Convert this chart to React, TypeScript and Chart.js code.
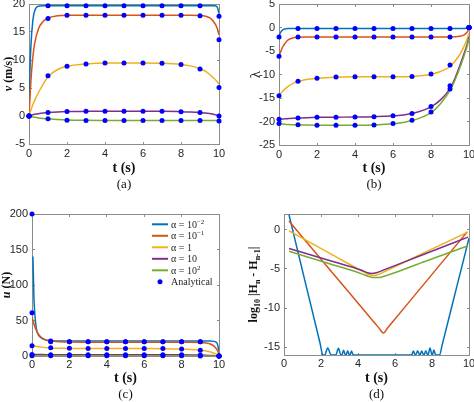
import { useEffect, useRef } from 'react';
import { Chart, registerables } from 'chart.js';

Chart.register(...registerables);

const SERIES_COLORS = ['#0072BD', '#D95319', '#EDB120', '#7E2F8E', '#77AC30'];
const ANALYTICAL_COLOR = '#0000FF';
const AXIS_COLOR = '#8c8c8c';
const TEXT_COLOR = '#262626';
const SANS = '"Liberation Sans", Arial, sans-serif';
const SERIF = '"Liberation Serif", "Times New Roman", serif';

// legend text: base and superscript of each weight
const alphaBase = ['α = 10', 'α = 10', 'α = 1', 'α = 10', 'α = 10'];
const alphaSup = ['−2', '−1', '', '', '2'];
const alphaNames = ['α = 10⁻²', 'α = 10⁻¹', 'α = 1', 'α = 10', 'α = 10²'];
const analyticalLabel = 'Analytical';
const timeTitle = 't (s)';

// time samples of the numerical solutions (panels a–c)
const tNum = [0, 0.05, 0.1, 0.2, 0.3, 0.5, 0.75, 1, 1.5, 2, 3, 4, 5, 6, 7, 8, 8.5, 9, 9.25, 9.5, 9.75, 9.9, 10];
// time samples of the analytical solution
const tExact = [0, 1, 2, 3, 4, 5, 6, 7, 8, 9, 10];

// (a) velocity v (m/s), numerical
const vel_1em2 = [0, 7.8, 12.5, 17.0, 18.8, 19.6, 19.7, 19.7, 19.7, 19.7, 19.7, 19.7, 19.7, 19.7, 19.7, 19.7, 19.7, 19.7, 19.7, 19.7, 19.7, 19.5, 18.3];
const vel_1em1 = [0, 3.3, 6.2, 10.4, 13.0, 15.6, 16.9, 17.5, 17.9, 18.0, 18.0, 18.0, 18.0, 18.0, 18.0, 18.0, 18.0, 17.95, 17.85, 17.55, 16.7, 15.7, 14.5];
const vel_1 = [0, 0.55, 1.05, 2.0, 2.8, 4.2, 5.7, 7.0, 8.3, 8.9, 9.3, 9.45, 9.45, 9.45, 9.4, 9.2, 8.95, 8.45, 8.05, 7.45, 6.65, 6.15, 5.7];
const vel_10 = [0, 0.06, 0.12, 0.22, 0.3, 0.42, 0.54, 0.62, 0.73, 0.79, 0.83, 0.85, 0.85, 0.85, 0.83, 0.78, 0.72, 0.62, 0.54, 0.43, 0.27, 0.13, 0];
const vel_100 = [0, -0.04, -0.08, -0.16, -0.23, -0.34, -0.44, -0.51, -0.63, -0.71, -0.77, -0.79, -0.8, -0.8, -0.8, -0.8, -0.8, -0.8, -0.8, -0.81, -0.81, -0.82, -0.82];
// (a) velocity, analytical
const velExact_1em2 = [0, 19.7, 19.7, 19.7, 19.7, 19.7, 19.7, 19.7, 19.7, 19.7, 17.8];
const velExact_1em1 = [0, 17.4, 18.0, 18.0, 18.0, 18.0, 18.0, 18.0, 18.0, 17.9, 13.6];
const velExact_1 = [0, 7.2, 8.9, 9.3, 9.45, 9.45, 9.45, 9.4, 9.2, 8.4, 5.1];
const velExact_10 = [0, 0.62, 0.8, 0.84, 0.85, 0.85, 0.85, 0.83, 0.78, 0.62, 0];
const velExact_100 = [0, -0.48, -0.74, -0.79, -0.8, -0.8, -0.8, -0.8, -0.8, -0.8, -0.88];

// (b) costate λ, numerical
const lam_1em2 = [-2.0, -1.35, -0.95, -0.5, -0.32, -0.22, -0.2, -0.2, -0.2, -0.2, -0.2, -0.2, -0.2, -0.2, -0.2, -0.2, -0.2, -0.2, -0.2, -0.2, -0.2, -0.17, -0.05];
const lam_1em1 = [-6.1, -5.5, -5.0, -4.1, -3.45, -2.6, -2.2, -2.08, -2.02, -2.0, -2.0, -2.0, -2.0, -2.0, -2.0, -2.0, -2.0, -2.0, -1.97, -1.88, -1.55, -1.0, -0.35];
const lam_1 = [-14.6, -14.3, -14.0, -13.5, -13.1, -12.45, -11.9, -11.5, -11.0, -10.8, -10.58, -10.5, -10.5, -10.48, -10.4, -9.95, -9.35, -8.35, -7.25, -5.85, -3.9, -2.5, -1.2];
const lam_10 = [-19.5, -19.49, -19.48, -19.46, -19.43, -19.38, -19.32, -19.27, -19.18, -19.12, -19.08, -19.05, -18.98, -18.8, -18.3, -16.9, -15.4, -13.0, -10.9, -8.3, -5.4, -3.6, -2.0];
const lam_100 = [-20.4, -20.43, -20.46, -20.52, -20.56, -20.62, -20.68, -20.72, -20.77, -20.8, -20.82, -20.82, -20.75, -20.5, -19.8, -18.1, -16.2, -13.4, -11.3, -8.8, -5.9, -4.0, -2.4];
// (b) costate, analytical
const lamExact_1em2 = [-2.0, -0.2, -0.2, -0.2, -0.2, -0.2, -0.2, -0.2, -0.2, -0.2, 0];
const lamExact_1em1 = [-6.1, -2.0, -2.0, -2.0, -2.0, -2.0, -2.0, -2.0, -2.0, -2.0, 0];
const lamExact_1 = [-14.5, -11.45, -10.8, -10.55, -10.5, -10.5, -10.5, -10.4, -9.9, -8.0, 0];
const lamExact_10 = [-19.5, -19.25, -19.1, -19.1, -19.05, -19.0, -18.8, -18.3, -16.8, -12.4, 0];
const lamExact_100 = [-20.4, -20.7, -20.8, -20.8, -20.8, -20.75, -20.45, -19.75, -18.0, -13.1, 0];

// (c) control u (N), numerical
const ctl_1em2 = [null, 140, 85, 45, 32, 25.5, 22.3, 21.4, 21.0, 21.0, 21.0, 21.0, 21.0, 21.0, 21.0, 21.0, 21.0, 21.0, 21.0, 21.0, 20.6, 18.0, 7.0];
const ctl_1em1 = [55, 50, 45.5, 38, 32.5, 26, 22.5, 21, 20, 19.6, 19.4, 19.3, 19.3, 19.3, 19.3, 19.3, 19.3, 19.1, 18.6, 17.3, 13.5, 8.5, 3.0];
const ctl_1 = [15.0, 14.7, 14.4, 13.8, 13.3, 12.5, 11.8, 11.3, 10.9, 10.7, 10.55, 10.5, 10.5, 10.45, 10.3, 9.8, 9.2, 8.2, 7.4, 6.0, 3.8, 2.3, 1.0];
const ctl_10 = [1.95, 1.95, 1.95, 1.95, 1.94, 1.94, 1.93, 1.93, 1.92, 1.91, 1.91, 1.9, 1.9, 1.88, 1.83, 1.69, 1.54, 1.3, 1.09, 0.83, 0.54, 0.36, 0.2];
const ctl_100 = [0.2, 0.2, 0.2, 0.2, 0.2, 0.2, 0.2, 0.2, 0.2, 0.2, 0.2, 0.2, 0.2, 0.2, 0.2, 0.18, 0.16, 0.13, 0.11, 0.09, 0.06, 0.04, 0.02];
// (c) control, analytical
const ctlExact_1em2 = [200, 20, 20, 20, 20, 20, 20, 20, 20, 20, 0];
const ctlExact_1em1 = [61, 21.2, 20, 20, 20, 20, 20, 20, 20, 20, 0];
const ctlExact_1 = [14.5, 11.45, 10.8, 10.55, 10.5, 10.5, 10.5, 10.4, 9.9, 8.0, 0];
const ctlExact_10 = [1.95, 1.93, 1.91, 1.91, 1.9, 1.9, 1.88, 1.83, 1.68, 1.24, 0];
const ctlExact_100 = [0.2, 0.21, 0.21, 0.21, 0.21, 0.21, 0.2, 0.2, 0.18, 0.13, 0];

// (d) log10 |H_n - H_(n-1)| per weight
const hT_1em2 = [0.27, 1.2, 1.95, 2.1, 2.2, 2.36, 2.55, 2.8, 2.94, 3.08, 3.13, 3.22, 3.32, 3.35, 3.44, 3.53, 3.56, 3.65, 3.74, 6.9, 6.99, 7.1, 7.12, 7.22, 7.33, 7.35, 7.44, 7.55, 7.57, 7.66, 7.77, 7.79, 7.89, 8.0, 8.02, 8.1, 8.2, 8.41, 8.55, 9.3, 10];
const hV_1em2 = [1.9, -7.2, -14.5, -16, -16, -15.12, -16, -16, -15.15, -16, -16, -15.4, -16, -16, -15.45, -16, -16, -15.5, -16, -16, -15.5, -16, -16, -15.45, -16, -16, -15.5, -16, -16, -15.45, -16, -16, -15.1, -16, -16, -15.35, -16, -16, -14.7, -7.66, -1.1];
const hT_1em1 = [0.27, 2.5, 4.8, 5.15, 5.37, 5.6, 6, 8, 9.9];
const hV_1em1 = [1.1, -5.17, -11.63, -12.6, -13.2, -12.55, -11.41, -5.71, -0.3];
const hT_1 = [0.27, 2.5, 4.3, 4.6, 4.85, 5.1, 5.5, 7.5, 9.95];
const hV_1 = [-0.15, -3.05, -5.39, -5.72, -5.86, -5.72, -5.27, -3.03, -0.29];
const hT_10 = [0.27, 2.5, 4.2, 4.5, 4.72, 5.0, 5.5, 7.5, 9.95];
const hV_10 = [-2.4, -3.98, -5.19, -5.48, -5.6, -5.5, -5.04, -3.2, -0.95];
const hT_100 = [0.27, 2.5, 4.0, 4.4, 4.8, 5.1, 5.5, 7.5, 9.95];
const hV_100 = [-2.75, -4.38, -5.47, -5.82, -6.1, -6.1, -5.88, -4.15, -2.05];

// axis ticks
const xTicksStep = 2;
const hTickValues = [-15, -10, -5, 0];

type Seg = { text: string; font: string; dy?: number };

function drawSegs(ctx: CanvasRenderingContext2D, segs: Seg[], x: number, y: number, rotate: boolean, align: 'center' | 'left' = 'center') {
  ctx.save();
  ctx.translate(x, y);
  if (rotate) ctx.rotate(-Math.PI / 2);
  ctx.textAlign = 'left';
  ctx.textBaseline = 'alphabetic';
  let w = 0;
  for (const s of segs) {
    ctx.font = s.font;
    w += ctx.measureText(s.text).width;
  }
  let cx = align === 'center' ? -w / 2 : 0;
  for (const s of segs) {
    ctx.font = s.font;
    ctx.fillText(s.text, cx, s.dy ?? 0);
    cx += ctx.measureText(s.text).width;
  }
  ctx.restore();
}

interface DecorSpec {
  yTitle: Seg[];
  yTitleX: number;
  xTitleDy: number;
  caption: string;
  captionDy: number;
  legend?: boolean;
}

function makeDecor(spec: DecorSpec) {
  return {
    id: 'panelDecor',
    beforeDatasetsDraw(chart: any) {
      const { ctx, chartArea: a } = chart;
      const xs = chart.scales.x;
      const ys = chart.scales.y;
      const L = Math.floor(a.left) + 0.5;
      const R = Math.floor(a.right) + 0.5;
      const T = Math.floor(a.top) + 0.5;
      const B = Math.floor(a.bottom) + 0.5;
      ctx.save();
      ctx.strokeStyle = AXIS_COLOR;
      ctx.lineWidth = 1;
      ctx.strokeRect(L, T, R - L, B - T);
      const k = 2.5;
      ctx.beginPath();
      for (const t of xs.ticks) {
        const p = Math.floor(xs.getPixelForValue(t.value)) + 0.5;
        ctx.moveTo(p, B);
        ctx.lineTo(p, B - k);
        ctx.moveTo(p, T);
        ctx.lineTo(p, T + k);
      }
      for (const t of ys.ticks) {
        const p = Math.floor(ys.getPixelForValue(t.value)) + 0.5;
        ctx.moveTo(L, p);
        ctx.lineTo(L + k, p);
        ctx.moveTo(R, p);
        ctx.lineTo(R - k, p);
      }
      ctx.stroke();
      ctx.restore();
    },
    afterDraw(chart: any) {
      const { ctx, chartArea: a } = chart;
      const cx = (a.left + a.right) / 2;
      const cy = (a.top + a.bottom) / 2;
      ctx.save();
      ctx.fillStyle = '#111111';
      drawSegs(ctx, [{ text: timeTitle, font: `bold 14px ${SERIF}` }], cx, a.bottom + spec.xTitleDy, false);
      drawSegs(ctx, [{ text: spec.caption, font: `13px ${SERIF}` }], cx, a.bottom + spec.captionDy, false);
      drawSegs(ctx, spec.yTitle, spec.yTitleX, cy, true);
      if (spec.legend) {
        const x0 = a.right - 67;
        const x1 = a.right - 51;
        const tx = a.right - 48;
        for (let i = 0; i < 6; i++) {
          const y = a.top + 10.3 + 11.5 * i;
          if (i < 5) {
            ctx.strokeStyle = SERIES_COLORS[i];
            ctx.lineWidth = 2;
            ctx.beginPath();
            ctx.moveTo(x0, y);
            ctx.lineTo(x1, y);
            ctx.stroke();
          } else {
            ctx.fillStyle = ANALYTICAL_COLOR;
            ctx.beginPath();
            ctx.arc((x0 + x1) / 2, y, 2.5, 0, Math.PI * 2);
            ctx.fill();
          }
          ctx.fillStyle = TEXT_COLOR;
          const segs: Seg[] =
            i < 5
              ? [
                  { text: alphaBase[i], font: `10px ${SERIF}` },
                  { text: alphaSup[i], font: `7px ${SERIF}`, dy: -4 },
                ]
              : [{ text: analyticalLabel, font: `10px ${SERIF}` }];
          drawSegs(ctx, segs, tx, y + 3.5, false, 'left');
        }
      }
      ctx.restore();
    },
  };
}

interface PanelSpec {
  lines: { t: number[]; v: (number | null)[] }[];
  markers: number[][];
  yMin: number;
  yMax: number;
  yStep: number;
  yTickValues?: number[];
  yAxisWidth: number;
  xAxisHeight: number;
  padTop: number;
  padRight: number;
  xTickPad: number;
  decor: DecorSpec;
}

function toPoints(t: number[], v: (number | null)[]) {
  const pts: { x: number; y: number }[] = [];
  t.forEach((x, i) => {
    const y = v[i];
    if (y !== null && y !== undefined) pts.push({ x, y });
  });
  return pts;
}

function buildConfig(s: PanelSpec): any {
  const tickFont = { family: SANS, size: 11 };
  const datasets: any[] = [];
  s.markers.forEach((vals, i) => {
    datasets.push({
      label: `${analyticalLabel} ${alphaNames[i]}`,
      data: toPoints(tExact, vals),
      showLine: false,
      pointRadius: 2.5,
      pointBorderWidth: 0,
      pointBackgroundColor: ANALYTICAL_COLOR,
      clip: false,
      order: 0,
    });
  });
  s.lines.forEach((ln, i) => {
    datasets.push({
      label: alphaNames[i],
      data: toPoints(ln.t, ln.v),
      showLine: true,
      borderColor: SERIES_COLORS[i],
      borderWidth: 1.5,
      pointRadius: 0,
      cubicInterpolationMode: 'monotone',
      order: 5 - i,
    });
  });
  const yTicks = s.yTickValues;
  return {
    type: 'scatter',
    data: { datasets },
    plugins: [makeDecor(s.decor)],
    options: {
      responsive: false,
      animation: false,
      devicePixelRatio: 1,
      events: [],
      layout: { padding: { left: 0, top: s.padTop, right: s.padRight, bottom: 0 } },
      plugins: { legend: { display: false }, tooltip: { enabled: false } },
      scales: {
        x: {
          type: 'linear',
          position: 'bottom',
          min: 0,
          max: 10,
          grid: { display: false, drawTicks: false },
          border: { display: false },
          ticks: { stepSize: xTicksStep, font: tickFont, color: TEXT_COLOR, padding: s.xTickPad, maxRotation: 0, autoSkip: false },
          afterFit: (sc: any) => {
            sc.height = s.xAxisHeight;
            sc.paddingLeft = 0;
            sc.paddingRight = 0;
          },
        },
        y: {
          type: 'linear',
          position: 'left',
          min: s.yMin,
          max: s.yMax,
          grid: { display: false, drawTicks: false },
          border: { display: false },
          ticks: { stepSize: s.yStep, font: tickFont, color: TEXT_COLOR, padding: 4, autoSkip: false },
          afterBuildTicks: (sc: any) => {
            if (yTicks) sc.ticks = yTicks.map((v) => ({ value: v }));
          },
          afterFit: (sc: any) => {
            sc.width = s.yAxisWidth;
            sc.paddingTop = 0;
            sc.paddingBottom = 0;
          },
        },
      },
    },
  };
}

const bold12 = `bold 12px ${SERIF}`;
const boldItalic12 = `italic bold 12px ${SERIF}`;
const boldSub = `bold 8px ${SERIF}`;

const panelA: PanelSpec = {
  lines: [vel_1em2, vel_1em1, vel_1, vel_10, vel_100].map((v) => ({ t: tNum, v })),
  markers: [velExact_1em2, velExact_1em1, velExact_1, velExact_10, velExact_100],
  yMin: -5,
  yMax: 20,
  yStep: 5,
  yAxisWidth: 29,
  xAxisHeight: 56,
  padTop: 3,
  padRight: 15,
  xTickPad: 3,
  decor: {
    yTitle: [
      { text: 'v', font: boldItalic12 },
      { text: ' (m/s)', font: bold12 },
    ],
    yTitleX: 12,
    xTitleDy: 28,
    caption: '(a)',
    captionDy: 44,
  },
};

const panelB: PanelSpec = {
  lines: [lam_1em2, lam_1em1, lam_1, lam_10, lam_100].map((v) => ({ t: tNum, v })),
  markers: [lamExact_1em2, lamExact_1em1, lamExact_1, lamExact_10, lamExact_100],
  yMin: -25,
  yMax: 5,
  yStep: 5,
  yAxisWidth: 45,
  xAxisHeight: 55,
  padTop: 3,
  padRight: 5,
  xTickPad: 3,
  decor: {
    yTitle: [{ text: 'λ', font: `15px ${SERIF}` }],
    yTitleX: 26,
    xTitleDy: 27,
    caption: '(b)',
    captionDy: 43,
  },
};

const panelC: PanelSpec = {
  lines: [ctl_1em2, ctl_1em1, ctl_1, ctl_10, ctl_100].map((v) => ({ t: tNum, v })),
  markers: [ctlExact_1em2, ctlExact_1em1, ctlExact_1, ctlExact_10, ctlExact_100],
  yMin: 0,
  yMax: 200,
  yStep: 50,
  yAxisWidth: 32,
  xAxisHeight: 46,
  padTop: 14,
  padRight: 15,
  xTickPad: 2,
  decor: {
    yTitle: [
      { text: 'u', font: boldItalic12 },
      { text: ' (N)', font: bold12 },
    ],
    yTitleX: 10,
    xTitleDy: 26,
    caption: '(c)',
    captionDy: 41.5,
    legend: true,
  },
};

const panelD: PanelSpec = {
  lines: [
    { t: hT_1em2, v: hV_1em2 },
    { t: hT_1em1, v: hV_1em1 },
    { t: hT_1, v: hV_1 },
    { t: hT_10, v: hV_10 },
    { t: hT_100, v: hV_100 },
  ],
  markers: [],
  yMin: -16,
  yMax: 2,
  yStep: 5,
  yTickValues: hTickValues,
  yAxisWidth: 50,
  xAxisHeight: 47,
  padTop: 14,
  padRight: 5,
  xTickPad: 2,
  decor: {
    yTitle: [
      { text: 'log', font: bold12 },
      { text: '10', font: boldSub, dy: 3 },
      { text: ' |H', font: bold12 },
      { text: 'n', font: boldSub, dy: 3 },
      { text: ' - H', font: bold12 },
      { text: 'n-1', font: boldSub, dy: 3 },
      { text: '|', font: bold12 },
    ],
    yTitleX: 23,
    xTitleDy: 27,
    caption: '(d)',
    captionDy: 42.5,
  },
};

function Panel(props: { left: number; top: number; width: number; height: number; spec: PanelSpec }) {
  const ref = useRef<HTMLCanvasElement | null>(null);
  useEffect(() => {
    if (!ref.current) return;
    const chart = new Chart(ref.current, buildConfig(props.spec));
    return () => chart.destroy();
  }, []);
  return (
    <canvas
      ref={ref}
      width={props.width}
      height={props.height}
      style={{ position: 'absolute', left: props.left, top: props.top, width: props.width, height: props.height }}
    />
  );
}

export default function App() {
  return (
    <div style={{ position: 'absolute', left: 0, top: 0, width: 474, height: 402, background: '#ffffff', overflow: 'hidden' }}>
      <Panel left={0} top={0} width={234} height={200} spec={panelA} />
      <Panel left={234} top={0} width={240} height={200} spec={panelB} />
      <Panel left={0} top={200} width={234} height={202} spec={panelC} />
      <Panel left={234} top={200} width={240} height={202} spec={panelD} />
    </div>
  );
}
